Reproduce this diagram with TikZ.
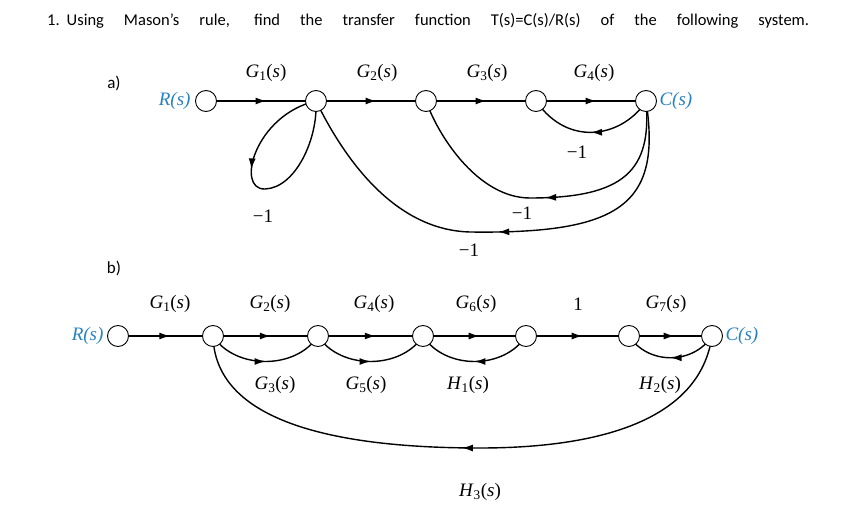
\documentclass[tikz,border=0pt]{standalone}
\usepackage{fontspec}
\setmainfont{Liberation Serif}
\newfontfamily\titlefont{Carlito}
\usetikzlibrary{decorations.markings,arrows.meta}
\definecolor{sigblue}{RGB}{40,130,190}
\newcommand{\tf}[2]{\textit{#1}\textsubscript{#2}(\textit{s})}
\begin{document}
\begin{tikzpicture}[x=1pt,y=-1pt,
  nd/.style={circle,draw,fill=white,minimum size=21pt,inner sep=0pt,line width=0.9pt},
  br/.style={line width=1.4pt,postaction={decorate},decoration={markings,mark=at position #1 with {\arrow{Latex[length=11pt,width=7pt]}}}},
  br/.default=0.5,
  lb/.style={font=\fontsize{19}{19}\selectfont},
  sig/.style={font=\fontsize{19}{19}\selectfont\itshape,text=sigblue}]
\useasboundingbox (0,0) rectangle (854,513);
\fill[white] (0,0) rectangle (854,513);
\node[font=\titlefont\fontsize{16.5}{17}\selectfont,anchor=west,inner sep=0pt] (title) at (47,21) {\makebox[762pt][s]{1.\kern7pt Using Mason’s rule, find the transfer function T(s)=C(s)/R(s) of the following system.}};
\node[font=\titlefont\fontsize{17}{17}\selectfont] (la) at (114,83) {a)};
\node[font=\titlefont\fontsize{17}{17}\selectfont] (lb) at (114,268) {b)};
% ---- a ----
\coordinate (aR) at (206,101);
\coordinate (a1) at (316,101);
\coordinate (a2) at (426,101);
\coordinate (a3) at (536,101);
\coordinate (aC) at (646,101);
\draw[br=0.55] (aR) -- (a1);
\draw[br=0.55] (a1) -- (a2);
\draw[br=0.55] (a2) -- (a3);
\draw[br=0.55] (a3) -- (aC);
\draw[br=0.5] (aC) .. controls (625,135) and (570,150) .. (a3);
\draw[br=0.42] (a1) .. controls (255,115) and (235,190) .. (265,189) .. controls (295,188) and (318,140) .. (a1);
\draw[br=0.5] (aC) .. controls (652,170) and (625,198) .. (530,198) .. controls (480,198) and (440,140) .. (a2);
\draw[br=0.5] (aC) .. controls (662,205) and (620,234) .. (470,232) .. controls (390,230) and (340,150) .. (a1);
\node[nd] (naR) at (aR) {};
\node[nd] (na1) at (a1) {};
\node[nd] (na2) at (a2) {};
\node[nd] (na3) at (a3) {};
\node[nd] (naC) at (aC) {};
\node[sig,anchor=east] (taR) at (194,101) {R(s)};
\node[sig,anchor=west] (taC) at (656,101) {C(s)};
\node[lb] (g1a) at (266,73) {\tf{G}{1}};
\node[lb] (g2a) at (377,73) {\tf{G}{2}};
\node[lb] (g3a) at (487,73) {\tf{G}{3}};
\node[lb] (g4a) at (594,73) {\tf{G}{4}};
\node[lb] (m1) at (263,216) {−1};
\node[lb] (m2) at (577,152) {−1};
\node[lb] (m3) at (522,213) {−1};
\node[lb] (m4) at (469,250) {−1};
% ---- b ----
\coordinate (bR) at (118,336);
\coordinate (b1) at (213,336);
\coordinate (b2) at (318,336);
\coordinate (b3) at (423,336);
\coordinate (b4) at (526,336);
\coordinate (b5) at (629,336);
\coordinate (bC) at (712,336);
\draw[br=0.55] (bR) -- (b1);
\draw[br=0.55] (b1) -- (b2);
\draw[br=0.55] (b2) -- (b3);
\draw[br=0.55] (b3) -- (b4);
\draw[br=0.55] (b4) -- (b5);
\draw[br=0.55] (b5) -- (bC);
\draw[br] (b1) .. controls (235,370) and (296,370) .. (b2);
\draw[br] (b2) .. controls (340,370) and (401,370) .. (b3);
\draw[br] (b4) .. controls (504,370) and (445,370) .. (b3);
\draw[br] (bC) .. controls (693,365) and (648,365) .. (b5);
\draw[br] (bC) .. controls (700,420) and (600,448) .. (480,448) .. controls (330,448) and (215,420) .. (b1);
\foreach \n in {bR,b1,b2,b3,b4,b5,bC} \node[nd] (n\n) at (\n) {};
\node[sig,anchor=east] (tbR) at (107,336) {R(s)};
\node[sig,anchor=west] (tbC) at (722,336) {C(s)};
\node[lb] (g1b) at (170,304) {\tf{G}{1}};
\node[lb] (g2b) at (270,304) {\tf{G}{2}};
\node[lb] (g4b) at (374,304) {\tf{G}{4}};
\node[lb] (g6b) at (476,304) {\tf{G}{6}};
\node[lb] (oneb) at (578,304) {1};
\node[lb] (g7b) at (666,304) {\tf{G}{7}};
\node[lb] (g3b) at (275,385) {\tf{G}{3}};
\node[lb] (g5b) at (366,385) {\tf{G}{5}};
\node[lb] (h1b) at (468,385) {\tf{H}{1}};
\node[lb] (h2b) at (660,385) {\tf{H}{2}};
\node[lb] (h3b) at (480,492) {\tf{H}{3}};
\end{tikzpicture}
\end{document}
